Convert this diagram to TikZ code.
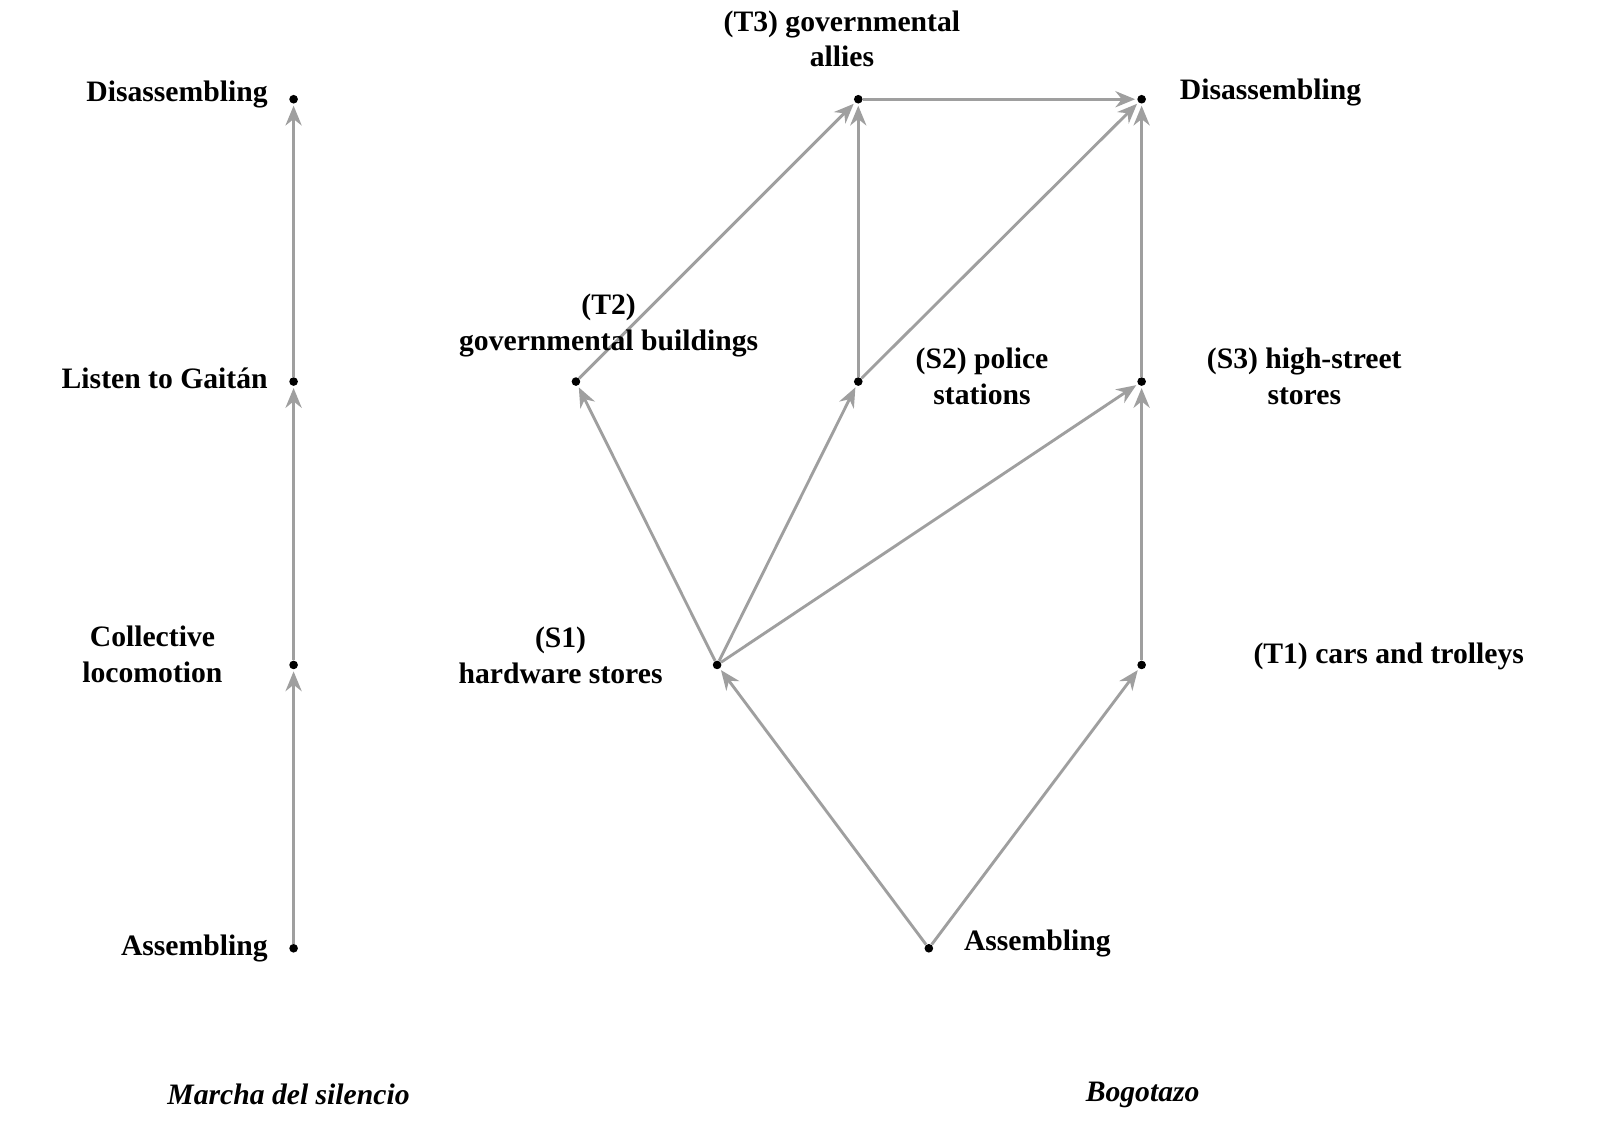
\documentclass[tikz,border=0pt]{standalone}
\usepackage{fontspec}
\setmainfont{Liberation Serif}
\usetikzlibrary{arrows.meta}
\begin{document}
\begin{tikzpicture}[x=0.02cm,y=-0.02cm,
  dot/.style={circle,fill=black,inner sep=0pt,minimum size=8pt*0.6},
  lbl/.style={font=\fontsize{16.5}{20}\selectfont\bfseries,align=center,inner sep=0pt},
  ttl/.style={font=\fontsize{16.5}{20}\selectfont\bfseries\itshape,inner sep=0pt},
  flow/.style={draw=gray!75,line width=1.6pt,-{Stealth[length=11pt,width=9pt]},shorten >=1pt}]
\useasboundingbox (0,0) rectangle (1568,1095);

% Marcha del silencio
\node[dot] (ma) at (287,927) {};
\node[dot] (mc) at (287,650) {};
\node[dot] (ml) at (287,373) {};
\node[dot] (md) at (287,97) {};

% Bogotazo
\node[dot] (ba) at (908,927) {};
\node[dot] (s1) at (701,650) {};
\node[dot] (t1) at (1116,650) {};
\node[dot] (t2) at (563,373) {};
\node[dot] (s2) at (839,373) {};
\node[dot] (s3) at (1116,373) {};
\node[dot] (t3) at (839,97) {};
\node[dot] (bd) at (1116,97) {};

\draw[flow] (ma) -- (mc);
\draw[flow] (mc) -- (ml);
\draw[flow] (ml) -- (md);

\draw[flow] (ba) -- (s1);
\draw[flow] (ba) -- (t1);
\draw[flow] (s1) -- (t2);
\draw[flow] (s1) -- (s2);
\draw[flow] (s1) -- (s3);
\draw[flow] (t1) -- (s3);
\draw[flow] (t2) -- (t3);
\draw[flow] (s2) -- (t3);
\draw[flow] (s2) -- (bd);
\draw[flow] (s3) -- (bd);
\draw[flow] (t3) -- (bd);

% labels
\node[lbl,anchor=east] (lmd) at (262,92) {Disassembling};
\node[lbl,anchor=east] (lml) at (262,370) {Listen to Gaitán};
\node[lbl] (lmc) at (149,640) {Collective\\locomotion};
\node[lbl,anchor=east] (lma) at (262,927) {Assembling};

\node[lbl] (lt3) at (823,38) {(T3) governmental\\allies};
\node[lbl,anchor=west] (lbd) at (1153,90) {Disassembling};
\node[lbl] (lt2) at (595,318) {(T2)\\governmental buildings};
\node[lbl] (ls2) at (960,368) {(S2) police\\stations};
\node[lbl] (ls3) at (1275,368) {(S3) high-street\\stores};
\node[lbl] (ls1) at (548,641) {(S1)\\hardware stores};
\node[lbl,anchor=west] (lt1) at (1225,642) {(T1) cars and trolleys};
\node[lbl,anchor=west] (lba) at (942,922) {Assembling};

\node[ttl] (tm) at (282,1070) {Marcha del silencio};
\node[ttl] (tb) at (1117,1070) {Bogotazo};
\end{tikzpicture}
\end{document}
